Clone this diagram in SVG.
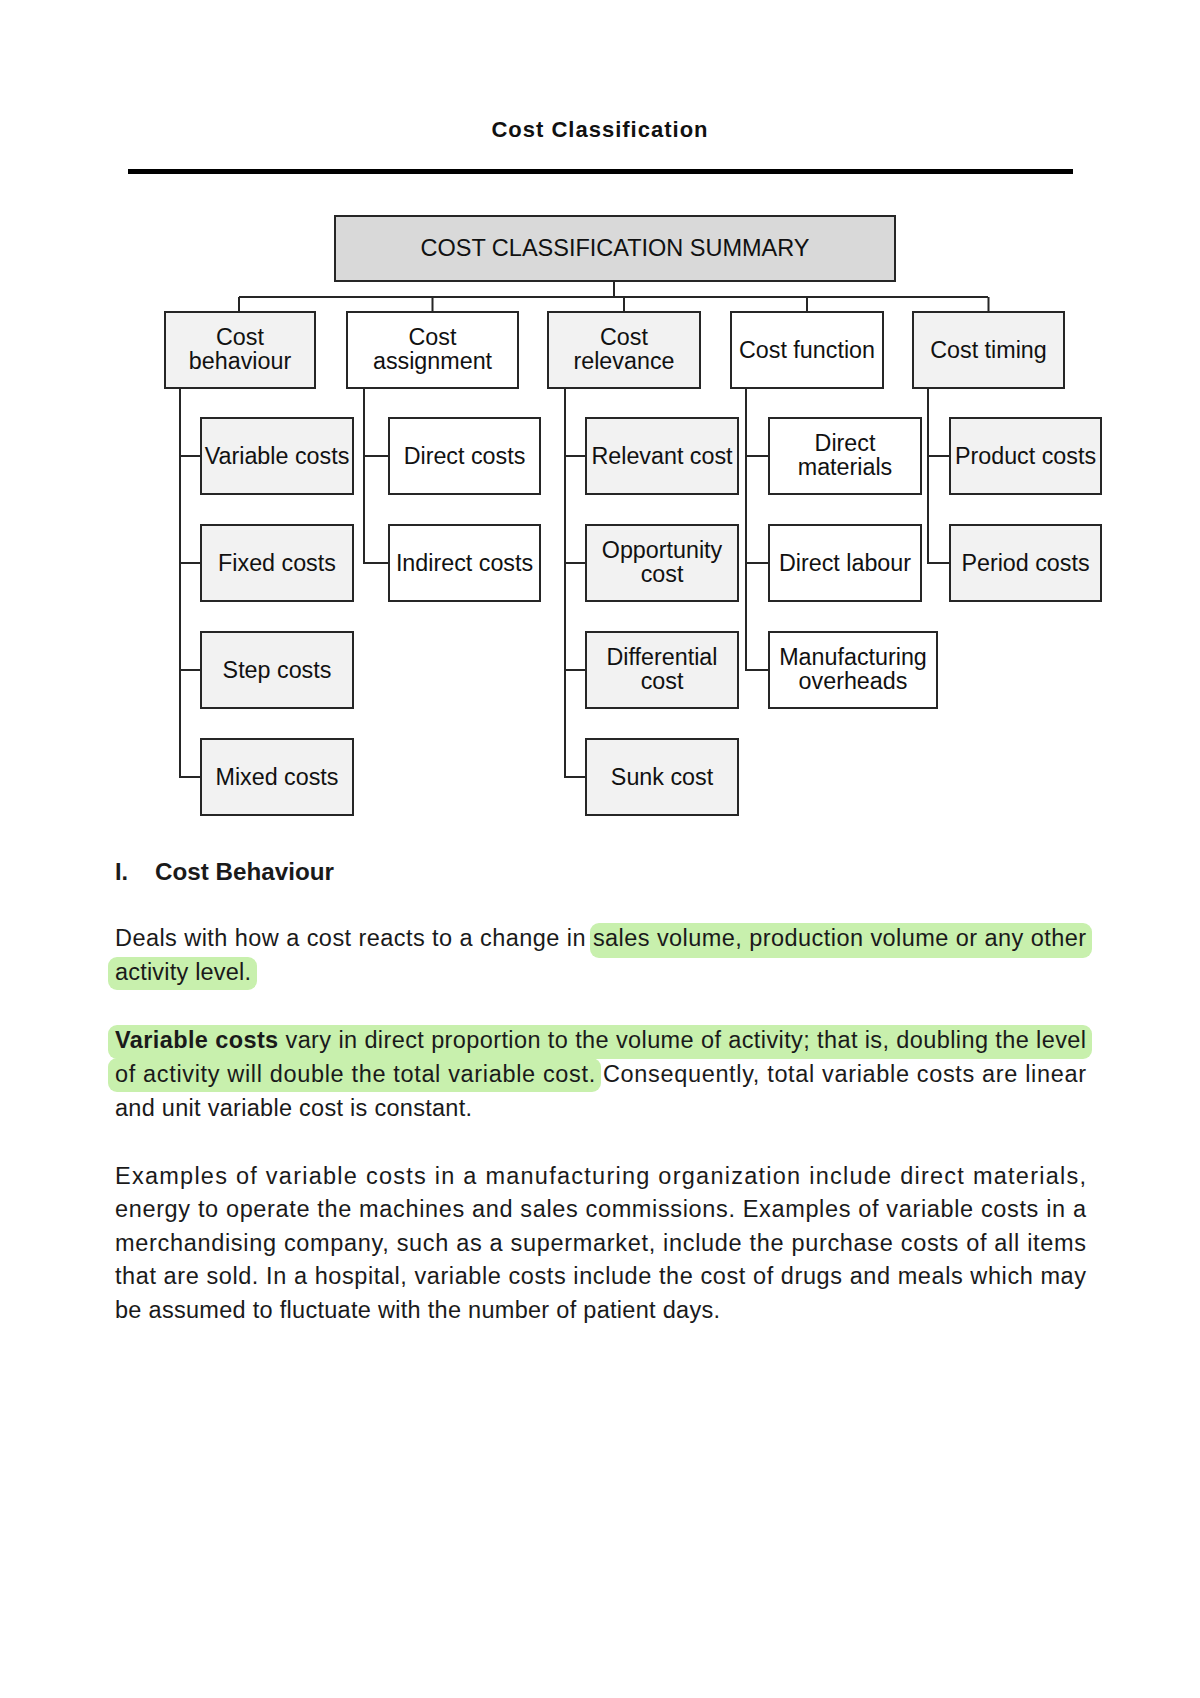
<svg xmlns="http://www.w3.org/2000/svg" width="1200" height="1698" viewBox="0 0 1200 1698">
<style>
  .box{stroke:#262626;stroke-width:2}
  .g{fill:#f2f2f2}
  .w{fill:#ffffff}
  .sum{fill:#d9d9d9}
  .lbl{font-family:"Liberation Sans",Arial,sans-serif;font-size:23.3px;fill:#111;text-anchor:middle}
  .body{font-family:"Liberation Sans",Arial,sans-serif;font-size:23.5px;fill:#1a1a1a}
  .bold{font-weight:bold}
  .conn{fill:none;stroke:#262626;stroke-width:2}
  .hl{fill:#c8f0ad}
</style>
<rect width="1200" height="1698" fill="#ffffff"/>
<text x="600" y="137" font-family="Liberation Sans, Arial, sans-serif" font-size="22" font-weight="bold" letter-spacing="1" text-anchor="middle" fill="#111">Cost Classification</text>
<rect x="128" y="169" width="945" height="5" fill="#000"/>

<g id="connectors">
  <path class="conn" d="M614 281 V297 M239 297 H988 M239 297 V312 M432.5 297 V312 M624 297 V312 M807 297 V312 M988.5 297 V312"/>
  <path class="conn" d="M180 388 V777 H201 M180 456 H201 M180 563 H201 M180 670 H201"/>
  <path class="conn" d="M364 388 V563 H389 M364 456 H389"/>
  <path class="conn" d="M565 388 V777 H586 M565 456 H586 M565 563 H586 M565 670 H586"/>
  <path class="conn" d="M746 388 V670 H769 M746 456 H769 M746 563 H769"/>
  <path class="conn" d="M928 388 V563 H950 M928 456 H950"/>
</g>

<g id="summary"><rect class="box sum" x="335" y="216" width="560" height="65"/><text class="lbl" x="615" y="256" font-size="23" textLength="389" lengthAdjust="spacingAndGlyphs">COST CLASSIFICATION SUMMARY</text></g>

<g id="cost-behaviour"><rect class="box g" x="165" y="312" width="150" height="76"/><text class="lbl" x="240" y="345">Cost</text><text class="lbl" x="240" y="369">behaviour</text></g>
<g id="cost-assignment"><rect class="box w" x="347" y="312" width="171" height="76"/><text class="lbl" x="432.5" y="345">Cost</text><text class="lbl" x="432.5" y="369">assignment</text></g>
<g id="cost-relevance"><rect class="box g" x="548" y="312" width="152" height="76"/><text class="lbl" x="624" y="345">Cost</text><text class="lbl" x="624" y="369">relevance</text></g>
<g id="cost-function"><rect class="box w" x="731" y="312" width="152" height="76"/><text class="lbl" x="807" y="358">Cost function</text></g>
<g id="cost-timing"><rect class="box g" x="913" y="312" width="151" height="76"/><text class="lbl" x="988.5" y="358">Cost timing</text></g>

<g id="variable-costs"><rect class="box g" x="201" y="418" width="152" height="76"/><text class="lbl" x="277" y="464">Variable costs</text></g>
<g id="fixed-costs"><rect class="box g" x="201" y="525" width="152" height="76"/><text class="lbl" x="277" y="571">Fixed costs</text></g>
<g id="step-costs"><rect class="box g" x="201" y="632" width="152" height="76"/><text class="lbl" x="277" y="678">Step costs</text></g>
<g id="mixed-costs"><rect class="box g" x="201" y="739" width="152" height="76"/><text class="lbl" x="277" y="785">Mixed costs</text></g>

<g id="direct-costs"><rect class="box w" x="389" y="418" width="151" height="76"/><text class="lbl" x="464.5" y="464">Direct costs</text></g>
<g id="indirect-costs"><rect class="box w" x="389" y="525" width="151" height="76"/><text class="lbl" x="464.5" y="571">Indirect costs</text></g>

<g id="relevant-cost"><rect class="box g" x="586" y="418" width="152" height="76"/><text class="lbl" x="662" y="464">Relevant cost</text></g>
<g id="opportunity-cost"><rect class="box g" x="586" y="525" width="152" height="76"/><text class="lbl" x="662" y="558">Opportunity</text><text class="lbl" x="662" y="582">cost</text></g>
<g id="differential-cost"><rect class="box g" x="586" y="632" width="152" height="76"/><text class="lbl" x="662" y="665">Differential</text><text class="lbl" x="662" y="689">cost</text></g>
<g id="sunk-cost"><rect class="box g" x="586" y="739" width="152" height="76"/><text class="lbl" x="662" y="785">Sunk cost</text></g>

<g id="direct-materials"><rect class="box w" x="769" y="418" width="152" height="76"/><text class="lbl" x="845" y="451">Direct</text><text class="lbl" x="845" y="475">materials</text></g>
<g id="direct-labour"><rect class="box w" x="769" y="525" width="152" height="76"/><text class="lbl" x="845" y="571">Direct labour</text></g>
<g id="manufacturing-overheads"><rect class="box w" x="769" y="632" width="168" height="76"/><text class="lbl" x="853" y="665">Manufacturing</text><text class="lbl" x="853" y="689">overheads</text></g>

<g id="product-costs"><rect class="box g" x="950" y="418" width="151" height="76"/><text class="lbl" x="1025.5" y="464">Product costs</text></g>
<g id="period-costs"><rect class="box g" x="950" y="525" width="151" height="76"/><text class="lbl" x="1025.5" y="571">Period costs</text></g>

<!-- body text -->
<text class="body bold" x="115" y="880" font-size="22">I.</text>
<text class="body bold" x="155" y="880" font-size="22" textLength="179" lengthAdjust="spacingAndGlyphs">Cost Behaviour</text>

<rect class="hl" x="590" y="923" width="502" height="35" rx="9"/>
<rect class="hl" x="108" y="957" width="149" height="33" rx="9"/>
<text class="body" x="115" y="946" textLength="971" lengthAdjust="spacing">Deals with how a cost reacts to a change in sales volume, production volume or any other</text>
<text class="body" x="115" y="980" textLength="136" lengthAdjust="spacing">activity level.</text>

<rect class="hl" x="108" y="1025" width="984" height="34" rx="9"/>
<rect class="hl" x="108" y="1058" width="493" height="34" rx="9"/>
<text class="body" x="115" y="1048" textLength="971" lengthAdjust="spacing"><tspan class="bold">Variable costs</tspan> vary in direct proportion to the volume of activity; that is, doubling the level</text>
<text class="body" x="115" y="1082" textLength="971" lengthAdjust="spacing">of activity will double the total variable cost. Consequently, total variable costs are linear</text>
<text class="body" x="115" y="1116" textLength="357" lengthAdjust="spacing">and unit variable cost is constant.</text>

<text class="body" x="115" y="1184" textLength="971" lengthAdjust="spacing">Examples of variable costs in a manufacturing organization include direct materials,</text>
<text class="body" x="115" y="1217" textLength="971" lengthAdjust="spacing">energy to operate the machines and sales commissions. Examples of variable costs in a</text>
<text class="body" x="115" y="1251" textLength="971" lengthAdjust="spacing">merchandising company, such as a supermarket, include the purchase costs of all items</text>
<text class="body" x="115" y="1284" textLength="971" lengthAdjust="spacing">that are sold. In a hospital, variable costs include the cost of drugs and meals which may</text>
<text class="body" x="115" y="1318" textLength="605" lengthAdjust="spacing">be assumed to fluctuate with the number of patient days.</text>
</svg>
